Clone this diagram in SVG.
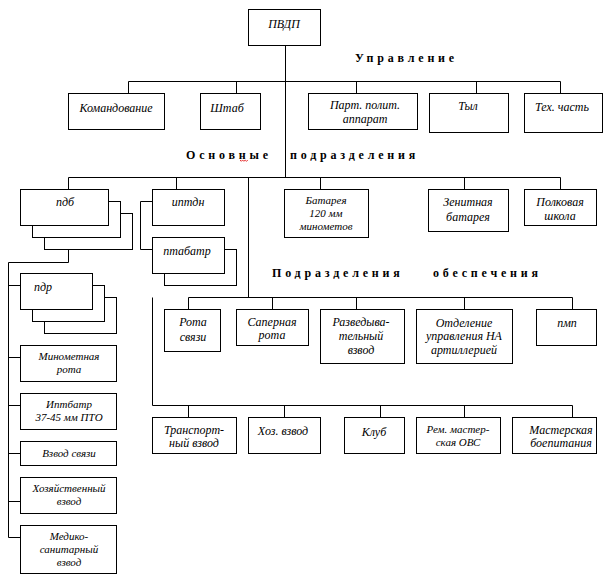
<svg xmlns="http://www.w3.org/2000/svg" width="614" height="578" viewBox="0 0 614 578">
<style>
.b{fill:#fff;stroke:#000;stroke-width:1}
.c{fill:none;stroke:#000;stroke-width:1}
.t{font-family:"Liberation Serif","Times New Roman",serif;font-style:italic;font-size:12px;text-anchor:middle;fill:#000}
.s{font-size:11px}
.h{font-family:"Liberation Serif","Times New Roman",serif;font-weight:bold;font-size:12px;letter-spacing:3.8px;fill:#000}
</style>
<rect width="614" height="578" fill="#fff"/>
<g id="headers">
<text class="h" x="355" y="62">Управление</text>
<text class="h" x="186" y="159">Основные</text>
<text class="h" x="290" y="159">подразделения</text>
<text class="h" x="272" y="277">Подразделения</text>
<text class="h" x="433" y="277">обеспечения</text>
<path d="M240,160 l1.3,1.3 l1.3,-1.3 l1.3,1.3 l1.3,-1.3 l1.3,1.3 l1.3,-1.3" fill="none" stroke="#e00000" stroke-width="0.8"/>
</g>
<g id="connectors" class="c">
<path d="M285.5,45.5 V177.5"/>
<path d="M128.5,93.5 V81.5 H560.5 V93.5 M236.5,81.5 V93.5 M356.5,81.5 V93.5 M476.5,81.5 V93.5"/>
<path d="M68.5,189.5 V177.5 H560.5 V189.5 M176.5,177.5 V189.5 M320.5,177.5 V189.5 M464.5,177.5 V189.5"/>
<path d="M248.5,177.5 V297.5"/>
<path d="M68.5,249.5 V262.5 H8.5 V537.5 H20.5 M8.5,285.5 H20.5 M8.5,357.5 H20.5 M8.5,405.5 H20.5 M8.5,453.5 H20.5 M8.5,501.5 H20.5"/>
<path d="M152.5,201.5 H140.5 V249.5 H152.5"/>
<path d="M188.5,309.5 V297.5 H572.5 V309.5 M152.5,297.5 V405.5 H572.5 V417.5 M272.5,297.5 V309.5 M356.5,297.5 V309.5 M464.5,297.5 V309.5"/>
<path d="M188.5,405.5 V417.5 M284.5,405.5 V417.5 M380.5,405.5 V417.5 M464.5,405.5 V417.5"/>
</g>
<g id="pvdp"><rect class="b" x="248.5" y="9.5" width="72" height="36"/><text class="t" x="284" y="28">ПВДП</text></g>
<g id="komandovanie"><rect class="b" x="68.5" y="93.5" width="96" height="36"/><text class="t" x="116" y="112">Командование</text></g>
<g id="shtab"><rect class="b" x="200.5" y="93.5" width="60" height="36"/><text class="t" x="227" y="112">Штаб</text></g>
<g id="partpolit"><rect class="b" x="308.5" y="93.5" width="109" height="36"/><text class="t" x="365" y="109">Парт. полит.</text><text class="t" x="365" y="123">аппарат</text></g>
<g id="tyl"><rect class="b" x="429.5" y="93.5" width="79" height="39"/><text class="t" x="468" y="110">Тыл</text></g>
<g id="tekh"><rect class="b" x="524.5" y="93.5" width="78" height="39"/><text class="t" x="562" y="111">Тех. часть</text></g>
<g id="pdb">
<rect class="b" x="44.5" y="213.5" width="88" height="36"/>
<rect class="b" x="32.5" y="201.5" width="88" height="36"/>
<rect class="b" x="20.5" y="189.5" width="88" height="36"/>
<text class="t" x="65" y="206">пдб</text>
</g>
<g id="iptdn"><rect class="b" x="152.5" y="189.5" width="72" height="36"/><text class="t" x="188" y="206">иптдн</text></g>
<g id="ptabatr">
<rect class="b" x="164.5" y="249.5" width="72" height="36"/>
<rect class="b" x="152.5" y="237.5" width="72" height="36"/>
<text class="t" x="187" y="255">птабатр</text>
</g>
<g id="batareya"><rect class="b" x="284.5" y="189.5" width="84" height="48"/><text class="t s" x="326" y="204">Батарея</text><text class="t s" x="326" y="217">120 мм</text><text class="t s" x="326" y="230">минометов</text></g>
<g id="zenitnaya"><rect class="b" x="428.5" y="189.5" width="80" height="42"/><text class="t" x="468" y="206">Зенитная</text><text class="t" x="468" y="221">батарея</text></g>
<g id="polkovaya"><rect class="b" x="524.5" y="189.5" width="72" height="36"/><text class="t" x="560" y="206">Полковая</text><text class="t" x="560" y="220">школа</text></g>
<g id="pdr">
<rect class="b" x="44.5" y="297.5" width="72" height="36"/>
<rect class="b" x="32.5" y="285.5" width="72" height="36"/>
<rect class="b" x="20.5" y="273.5" width="72" height="36"/>
<text class="t" x="43" y="291">пдр</text>
</g>
<g id="minometnaya"><rect class="b" x="20.5" y="345.5" width="96" height="36"/><text class="t s" x="69" y="360">Минометная</text><text class="t s" x="69" y="373">рота</text></g>
<g id="iptbatr"><rect class="b" x="20.5" y="393.5" width="96" height="36"/><text class="t s" x="69" y="408">Иптбатр</text><text class="t s" x="69" y="421">37-45 мм ПТО</text></g>
<g id="vzvod-svyazi"><rect class="b" x="20.5" y="441.5" width="96" height="24"/><text class="t s" x="69" y="457">Взвод связи</text></g>
<g id="khozyaistvenny"><rect class="b" x="20.5" y="477.5" width="96" height="36"/><text class="t s" x="69" y="492">Хозяйственный</text><text class="t s" x="69" y="505">взвод</text></g>
<g id="mediko"><rect class="b" x="20.5" y="525.5" width="96" height="48"/><text class="t s" x="69" y="540">Медико-</text><text class="t s" x="69" y="553">санитарный</text><text class="t s" x="69" y="566">взвод</text></g>
<g id="rota-svyazi"><rect class="b" x="164.5" y="309.5" width="56" height="42"/><text class="t" x="193" y="326">Рота</text><text class="t" x="193" y="341">связи</text></g>
<g id="sapernaya"><rect class="b" x="236.5" y="309.5" width="72" height="36"/><text class="t" x="272" y="326">Саперная</text><text class="t" x="272" y="339">рота</text></g>
<g id="razvedyva"><rect class="b" x="320.5" y="309.5" width="84" height="54"/><text class="t" x="361" y="326">Разведыва-</text><text class="t" x="361" y="340">тельный</text><text class="t" x="361" y="354">взвод</text></g>
<g id="otdelenie"><rect class="b" x="416.5" y="309.5" width="96" height="54"/><text class="t" x="464" y="327">Отделение</text><text class="t" x="464" y="340">управления НА</text><text class="t" x="464" y="354">артиллерией</text></g>
<g id="pmp"><rect class="b" x="536.5" y="309.5" width="60" height="36"/><text class="t" x="567" y="327">пмп</text></g>
<g id="transport"><rect class="b" x="152.5" y="417.5" width="84" height="36"/><text class="t" x="194" y="434">Транспорт-</text><text class="t" x="194" y="447">ный взвод</text></g>
<g id="khoz-vzvod"><rect class="b" x="248.5" y="417.5" width="72" height="36"/><text class="t" x="283" y="435">Хоз. взвод</text></g>
<g id="klub"><rect class="b" x="344.5" y="417.5" width="60" height="36"/><text class="t" x="374" y="436">Клуб</text></g>
<g id="rem"><rect class="b" x="416.5" y="417.5" width="84" height="36"/><text class="t s" x="458" y="433">Рем. мастер-</text><text class="t s" x="458" y="446">ская ОВС</text></g>
<g id="masterskaya"><rect class="b" x="512.5" y="417.5" width="84" height="36"/><text class="t" x="561" y="434">Мастерская</text><text class="t" x="561" y="447">боепитания</text></g>
</svg>
